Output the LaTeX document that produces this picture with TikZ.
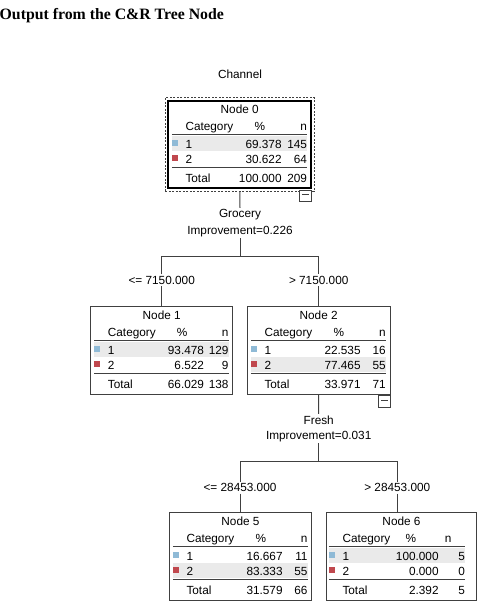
\documentclass[tikz,border=0pt]{standalone}
\usepackage{fontspec}
\setmainfont{Liberation Sans}
\newfontfamily\titlefont{Liberation Serif}
\usetikzlibrary{fit}
\definecolor{catblue}{RGB}{143,186,214}
\definecolor{catred}{RGB}{192,72,78}
\definecolor{rowgray}{RGB}{234,234,234}
\definecolor{linegray}{RGB}{64,64,64}
\tikzset{
  txt/.style={font=\fontsize{11.8}{13}\selectfont, inner sep=0pt, text=black},
  sepline/.style={draw=linegray, line width=1.4pt},
  conn/.style={draw=linegray, line width=1pt},
  plainbox/.style={draw=linegray, line width=1pt},
  rootbox/.style={draw=black, line width=2.2pt},
  brlbl/.style={txt, inner ysep=1.5pt, anchor=base},
  minusbox/.style={draw=linegray, line width=1pt, minimum width=12pt, minimum height=11.5pt, inner sep=0pt, fill=white},
}
% table parameters (defaults)
\def\cloff{3.5}\def\croff{4}\def\pcth{88}\def\nhoff{0}\def\nhanchor{base east}
\def\boxh{88}
\newcommand\spssnode[9]{%
  \pgfmathsetmacro\W{#3-#2}%
  \pgfmathsetmacro\CL{\cloff}%
  \pgfmathsetmacro\CR{\W-\croff}%
  \pgfmathsetmacro\NHX{\CR-\nhoff}%
  \pgfmathsetmacro\HLA{35.5+15*(\hlrow-1)}%
  \pgfmathsetmacro\HLB{50.5+15*(\hlrow-1)}%
  \begin{scope}[shift={(#2,#4)}]
    \fill[rowgray] (\CL,\HLA) rectangle (\CR,\HLB);
    \draw[sepline] (\CL,33.5) -- (\CR,33.5);
    \draw[sepline] (\CL,67) -- (\CR,67);
    \fill[catblue] (\CL,39.5) rectangle ++(6,6);
    \fill[catred] (\CL,54.5) rectangle ++(6,6);
    \node[txt,anchor=base] at (\W/2,13) {#5};
    \node[txt,anchor=base west] at (\CL+13.5,30) {Category};
    \node[txt,anchor=base] at (\CL+\pcth,30) {\%};
    \node[txt,anchor=\nhanchor] at (\NHX,30) {n};
    \node[txt,anchor=base west] at (\CL+13.5,48) {1};
    \node[txt,anchor=base east] at (\CL+110,48) {#6};
    \node[txt,anchor=base east] at (\CR,48) {#7};
    \node[txt,anchor=base west] at (\CL+13.5,63) {2};
    \node[txt,anchor=base east] at (\CL+110,63) {#8};
    \node[txt,anchor=base east] at (\CR,63) {#9};
    \node[txt,anchor=base west] at (\CL+13.5,81.5) {Total};
    \node[txt,anchor=base east] at (\CL+110,81.5) {\ptot};
    \node[txt,anchor=base east] at (\CR,81.5) {\ntot};
  \end{scope}
  \coordinate (#1-nw) at (#2,#4);
  \coordinate (#1-se) at (#3,#4+\boxh);
  \node[fit=(#1-nw)(#1-se), inner sep=0pt, curbox] (#1) {};
}
\begin{document}
\begin{tikzpicture}[x=1pt,y=-1pt]
\useasboundingbox[fill=white] (0,0) rectangle (478,607);

% title
\node[anchor=base west, inner sep=0pt, font=\titlefont\bfseries\fontsize{15.8}{18}\selectfont] (title) at (-0.5,19.3) {Output from the C\&R Tree Node};

\node[brlbl] (chan) at (240,78.3) {Channel};

% Node 0
\def\ptot{100.000}\def\ntot{209}\def\hlrow{1}\def\boxh{87.5}
\tikzset{curbox/.style={rootbox}}
\spssnode{n0}{168.3}{311.2}{100.7}{Node 0}{69.378}{145}{30.622}{64}
\node[fit=(n0-nw)(n0-se), inner sep=3pt, draw=linegray, line width=0.9pt, dash pattern=on 2pt off 1.5pt] (n0o) {};
\node[minusbox] (m0) at (305.3,195.8) {};
\draw[linegray, line width=1pt] ([xshift=-3.5pt,yshift=1pt]m0.center) -- ([xshift=3.5pt,yshift=1pt]m0.center);

% first split
\node[brlbl] (g1) at (240,217.7) {Grocery};
\node[brlbl] (g2) at (240,234) {Improvement=0.226};
\coordinate (s1) at (240,256.7);
\draw[conn] (n0o.south) -- (g1.north);
\draw[conn] (g2.south) -- (s1);
\node[brlbl] (l1) at (161.7,284.3) {<= 7150.000};
\node[brlbl] (l2) at (318.7,284.3) {> 7150.000};
\draw[conn] (l1.north) |- (s1) -| (l2.north);

% Node 1, Node 2
\def\boxh{88}
\tikzset{curbox/.style={plainbox}}
\def\ptot{66.029}\def\ntot{138}\def\hlrow{1}
\spssnode{n1}{90.7}{232.7}{306.7}{Node 1}{93.478}{129}{6.522}{9}
\def\ptot{33.971}\def\ntot{71}\def\hlrow{2}
\spssnode{n2}{247.3}{390}{306.7}{Node 2}{22.535}{16}{77.465}{55}
\draw[conn] (l1.south) -- (l1.south |- n1.north);
\draw[conn] (l2.south) -- (l2.south |- n2.north);
\node[minusbox] (m2) at (384.5,401.5) {};
\draw[linegray, line width=1pt] ([xshift=-3.5pt,yshift=1pt]m2.center) -- ([xshift=3.5pt,yshift=1pt]m2.center);

% second split
\node[brlbl] (f1) at (318.7,424) {Fresh};
\node[brlbl] (f2) at (318.7,439.3) {Improvement=0.031};
\coordinate (s2) at (318.7,461.7);
\draw[conn] (n2.south) -- (f1.north);
\draw[conn] (f2.south) -- (s2);
\node[brlbl] (l3) at (240,491.7) {<= 28453.000};
\node[brlbl] (l4) at (397.3,491.7) {> 28453.000};
\draw[conn] (l3.north) |- (s2) -| (l4.north);

% Node 5, Node 6
\def\ptot{31.579}\def\ntot{66}\def\hlrow{2}
\spssnode{n5}{169.3}{311.7}{512.7}{Node 5}{16.667}{11}{83.333}{55}
\def\cloff{2.5}\def\croff{11.5}\def\pcth{82}\def\nhoff{17}\def\nhanchor{base}
\def\ptot{2.392}\def\ntot{5}\def\hlrow{1}
\spssnode{n6}{326.3}{476.7}{512.7}{Node 6}{100.000}{5}{0.000}{0}
\draw[conn] (l3.south) -- (l3.south |- n5.north);
\draw[conn] (l4.south) -- (l4.south |- n6.north);
\end{tikzpicture}
\end{document}
